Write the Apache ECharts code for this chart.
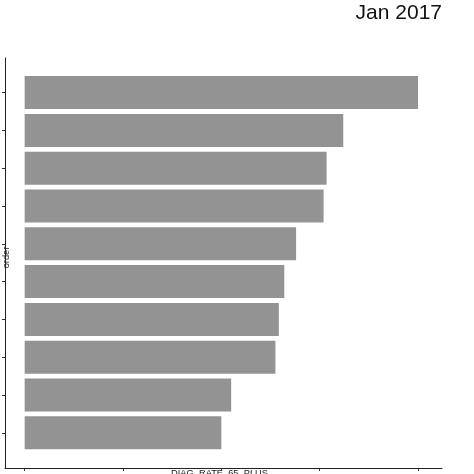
<!DOCTYPE html>
<html>
<head>
<meta charset="utf-8">
<script src="https://cdn.jsdelivr.net/npm/echarts@6/dist/echarts.min.js"></script>
<style>
html,body{margin:0;padding:0;background:#fff;}
#c{width:474px;height:474px;}
</style>
</head>
<body>
<div id="c"></div>
<script>
var categories = ['1','2','3','4','5','6','7','8','9','10'];
var values = [4.0, 3.24, 3.07, 3.04, 2.76, 2.64, 2.585, 2.55, 2.10, 2.00];
var xTicks = [0, 1, 2, 3, 4];
var titleText = 'Jan 2017';
var xName = 'DIAG_RATE_65_PLUS';
var yName = 'order';

var XMIN = -0.2, XMAX = 4.244;
var font = '"Liberation Sans", Arial, sans-serif';
var chart = echarts.init(document.getElementById('c'), null, {renderer: 'canvas'});
chart.setOption({
  animation: false,
  backgroundColor: '#ffffff',
  title: {
    text: titleText, right: 32, top: 3, padding: 0,
    textStyle: {fontFamily: font, fontSize: 21, fontWeight: 'normal', color: '#111'}
  },
  grid: [
    {left: 5, right: 32, top: 73.7, bottom: 22.3, containLabel: false, outerBoundsMode: 'none'},
    {left: 5, right: 32, top: 58, bottom: 6, containLabel: false, outerBoundsMode: 'none'}
  ],
  xAxis: [
    {gridIndex: 0, type: 'value', min: XMIN, max: XMAX, show: false},
    {gridIndex: 1, type: 'value', min: XMIN, max: XMAX,
     axisLine: {show: true, onZero: false, lineStyle: {color: '#222', width: 1}},
     axisTick: {show: true, customValues: xTicks, length: 3, lineStyle: {color: '#333'}},
     axisLabel: {show: false}, splitLine: {show: false},
     name: xName, nameLocation: 'middle', nameGap: 1,
     nameTextStyle: {fontFamily: font, fontSize: 9.3, color: '#222', padding: [0, 8, 0, 0]}}
  ],
  yAxis: [
    {gridIndex: 0, type: 'category', data: categories, inverse: true,
     axisLine: {show: false, onZero: false},
     axisTick: {show: true, alignWithLabel: true, length: 3, lineStyle: {color: '#333'}},
     axisLabel: {show: false}, splitLine: {show: false}},
    {gridIndex: 1, type: 'value', min: 0, max: 1,
     axisLine: {show: true, onZero: false, lineStyle: {color: '#222', width: 1}},
     axisTick: {show: false}, axisLabel: {show: false}, splitLine: {show: false}}
  ],
  graphic: [
    {type: 'text', x: 6, y: 257.5, rotation: Math.PI / 2,
     style: {text: yName, fontFamily: font, fontSize: 9.3, fill: '#222', align: 'center', verticalAlign: 'middle'}}
  ],
  series: [{
    type: 'bar', xAxisIndex: 0, yAxisIndex: 0,
    data: values, barWidth: 33,
    itemStyle: {color: '#939393'}
  }]
});
</script>
</body>
</html>
